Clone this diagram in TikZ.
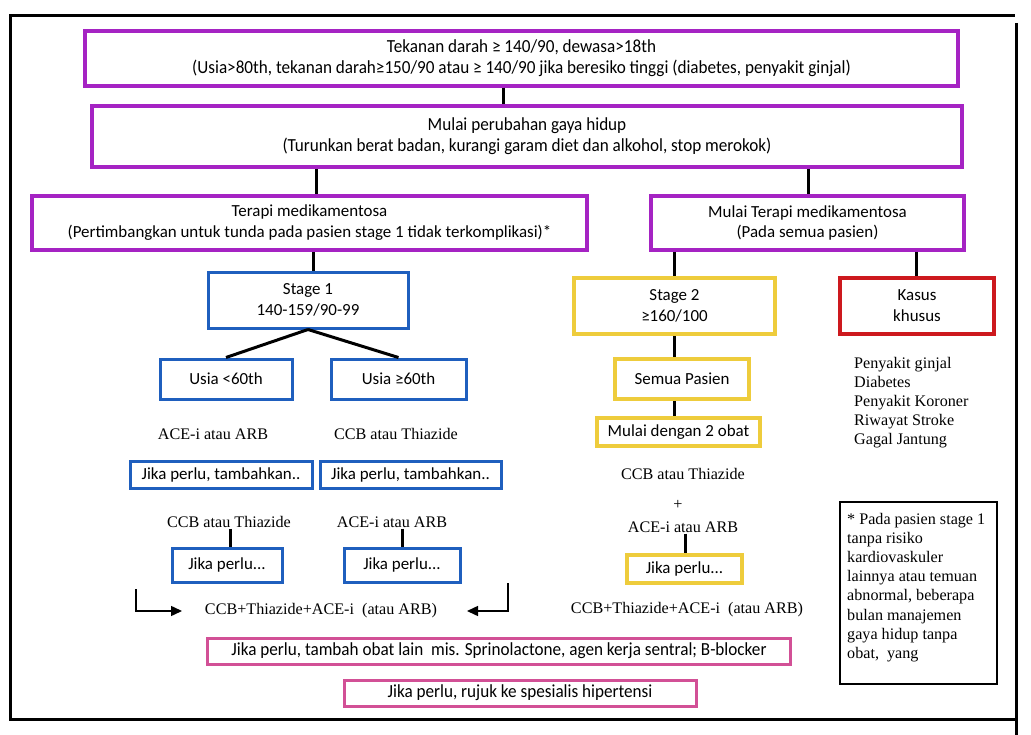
\documentclass[tikz,border=0pt]{standalone}
\usepackage{fontspec}
\setmainfont{Liberation Serif}
\newfontfamily\calfont{Carlito}
\newfontfamily\narfont{Carlito}[FakeStretch=0.93]
\usetikzlibrary{arrows.meta}
\definecolor{pur}{RGB}{165,35,195}
\definecolor{blu}{RGB}{31,95,190}
\definecolor{yel}{RGB}{238,204,60}
\definecolor{rd}{RGB}{205,25,30}
\definecolor{pnk}{RGB}{210,80,150}
\tikzset{
  bx/.style={draw, line width=3.5bp, inner sep=0pt, align=center, fill=white},
  pbox/.style={bx, draw=pur, font=\narfont\fontsize{18.5}{21}\selectfont},
  pbox2/.style={bx, draw=pur, font=\calfont\fontsize{17}{21}\selectfont},
  bbox/.style={bx, draw=blu, line width=3bp, font=\calfont\fontsize{17}{21}\selectfont},
  ybox/.style={bx, draw=yel, line width=4bp, font=\calfont\fontsize{17}{21}\selectfont},
  rbox/.style={bx, draw=rd, line width=4bp, font=\calfont\fontsize{17}{21}\selectfont},
  kbox/.style={bx, draw=pnk, line width=3bp, font=\narfont\fontsize{18.5}{21}\selectfont},
  nbox/.style={draw, line width=2bp, inner sep=0pt},
  txt/.style={inner sep=1bp, font=\fontsize{16.2}{19.2}\selectfont},
  con/.style={line width=3bp},
  arr/.style={line width=1.5bp, -{Triangle[length=11bp,width=10bp]}},
  frame/.style={line width=3bp}
}
\begin{document}
\begin{tikzpicture}[x=1bp,y=-1bp]
\useasboundingbox (0,0) rectangle (1031,735);
% outer frame
\draw[frame] (9,16) -- (1015,16);
\draw[frame] (10,16) -- (10,720);
\draw[frame] (9,719) -- (1016,719);
\draw[frame] (1016,23) -- (1016,735);

% top boxes
\node[pbox, minimum width=873bp, minimum height=55bp] (b1) at (521.5,58.5)
  {Tekanan darah ≥ 140/90, dewasa>18th\\(Usia>80th, tekanan darah≥150/90 atau ≥ 140/90 jika beresiko tinggi (diabetes, penyakit ginjal)};
\node[pbox, minimum width=870bp, minimum height=61bp] (b2) at (527,136.5)
  {Mulai perubahan gaya hidup\\(Turunkan berat badan, kurangi garam diet dan alkohol, stop merokok)};
\node[pbox2, minimum width=555bp, minimum height=54bp] (b3) at (309.5,223)
  {Terapi medikamentosa\\(Pertimbangkan untuk tunda pada pasien stage 1 tidak terkomplikasi)*};
\node[pbox2, minimum width=313bp, minimum height=54bp] (b4) at (807.5,223)
  {Mulai Terapi medikamentosa\\(Pada semua pasien)};

% left column
\node[bbox, minimum width=200bp, minimum height=56bp] (s1) at (308,300) {Stage 1\\140-159/90-99};
\node[bbox, minimum width=132bp, minimum height=40bp] (u1) at (226,379) {Usia <60th};
\node[bbox, minimum width=135bp, minimum height=40bp] (u2) at (398.5,379) {Usia ≥60th};
\node[txt] (t1) at (213,434) {ACE-i atau ARB};
\node[txt] (t2) at (396,434) {CCB atau Thiazide};
\node[bbox, minimum width=182bp, minimum height=27bp] (j1) at (221,474.5) {Jika perlu, tambahkan..};
\node[bbox, minimum width=181bp, minimum height=27bp] (j2) at (410.5,474.5) {Jika perlu, tambahkan..};
\node[txt] (t3) at (229,522) {CCB atau Thiazide};
\node[txt] (t4) at (392,522) {ACE-i atau ARB};
\node[bbox, minimum width=110bp, minimum height=34bp] (j3) at (227,565) {Jika perlu...};
\node[bbox, minimum width=116bp, minimum height=34bp] (j4) at (402,565) {Jika perlu...};
\node[txt] (c1) at (321,611) {CCB+Thiazide+ACE-i\ \ (atau ARB)};

% right column
\node[ybox, minimum width=201bp, minimum height=56bp] (s2) at (674.5,306) {Stage 2\\≥160/100};
\node[ybox, minimum width=134bp, minimum height=40bp] (sp) at (682,379) {Semua Pasien};
\node[ybox, minimum width=163bp, minimum height=28bp] (m2) at (678.5,432) {\raisebox{-3bp}{Mulai dengan 2 obat}};
\node[txt] (t5) at (683,474) {CCB atau Thiazide};
\node[txt] (t6) at (678,505) {+};
\node[txt] (t7) at (683,527) {ACE-i atau ARB};
\node[ybox, minimum width=115bp, minimum height=28bp] (j5) at (684.5,569) {Jika perlu...};
\node[txt] (c2) at (687,610) {CCB+Thiazide+ACE-i\ \ (atau ARB)};

% special cases
\node[rbox, minimum width=154bp, minimum height=56bp] (k) at (917,306) {Kasus\\khusus};
\node[txt, anchor=north west, align=left] (kl) at (853,356)
  {Penyakit ginjal\\Diabetes\\Penyakit Koroner\\Riwayat Stroke\\Gagal Jantung};

% note
\node[nbox, minimum width=157bp, minimum height=182bp] (nb) at (918.5,593) {};
\node[txt, anchor=north west, align=left] (nt) at (846,512)
  {* Pada pasien stage 1\\tanpa risiko\\kardiovaskuler\\lainnya atau temuan\\abnormal, beberapa\\bulan manajemen\\gaya hidup tanpa\\obat,\ \ yang};

% bottom
\node[kbox, minimum width=582bp, minimum height=26bp] (p1) at (499,651)
  {Jika perlu, tambah obat lain\ \ mis. Sprinolactone, agen kerja sentral; B-blocker};
\node[kbox, minimum width=352bp, minimum height=26bp] (p2) at (520,693)
  {Jika perlu, rujuk ke spesialis hipertensi};

% connector x positions
\coordinate (xa) at (503,0);
\coordinate (xb) at (316,0);
\coordinate (xc) at (808,0);
\coordinate (xd) at (313,0);
\coordinate (xe) at (230,0);
\coordinate (xf) at (402,0);
\coordinate (xg) at (674,0);
\coordinate (xh) at (916,0);
\coordinate (xi) at (685,0);

\draw[con] (b1.south -| xa) -- (b2.north -| xa);
\draw[con] (b2.south -| xb) -- (b3.north -| xb);
\draw[con] (b2.south -| xc) -- (b4.north -| xc);
\draw[con] (b3.south -| xd) -- (s1.north -| xd);
\draw[con] (s1.south) -- (u1.north);
\draw[con] (s1.south) -- (u2.north);
\draw[con] (t3.south -| xe) -- (j3.north -| xe);
\draw[con] (t4.south -| xf) -- (j4.north -| xf);
\draw[con] (b4.south -| xg) -- (s2.north -| xg);
\draw[con] (b4.south -| xh) -- (k.north -| xh);
\draw[con] (s2.south -| xg) -- (sp.north -| xg);
\draw[con] (sp.south -| xg) -- (m2.north -| xg);
\draw[con] (t7.south -| xi) -- (j5.north -| xi);

% arrows to combination
\coordinate (la) at (136,589);
\coordinate (lb) at (182,611);
\coordinate (ra) at (508,583);
\coordinate (rb) at (467,611);
\draw[arr] (la) |- (lb);
\draw[arr] (ra) |- (rb);
\end{tikzpicture}
\end{document}
